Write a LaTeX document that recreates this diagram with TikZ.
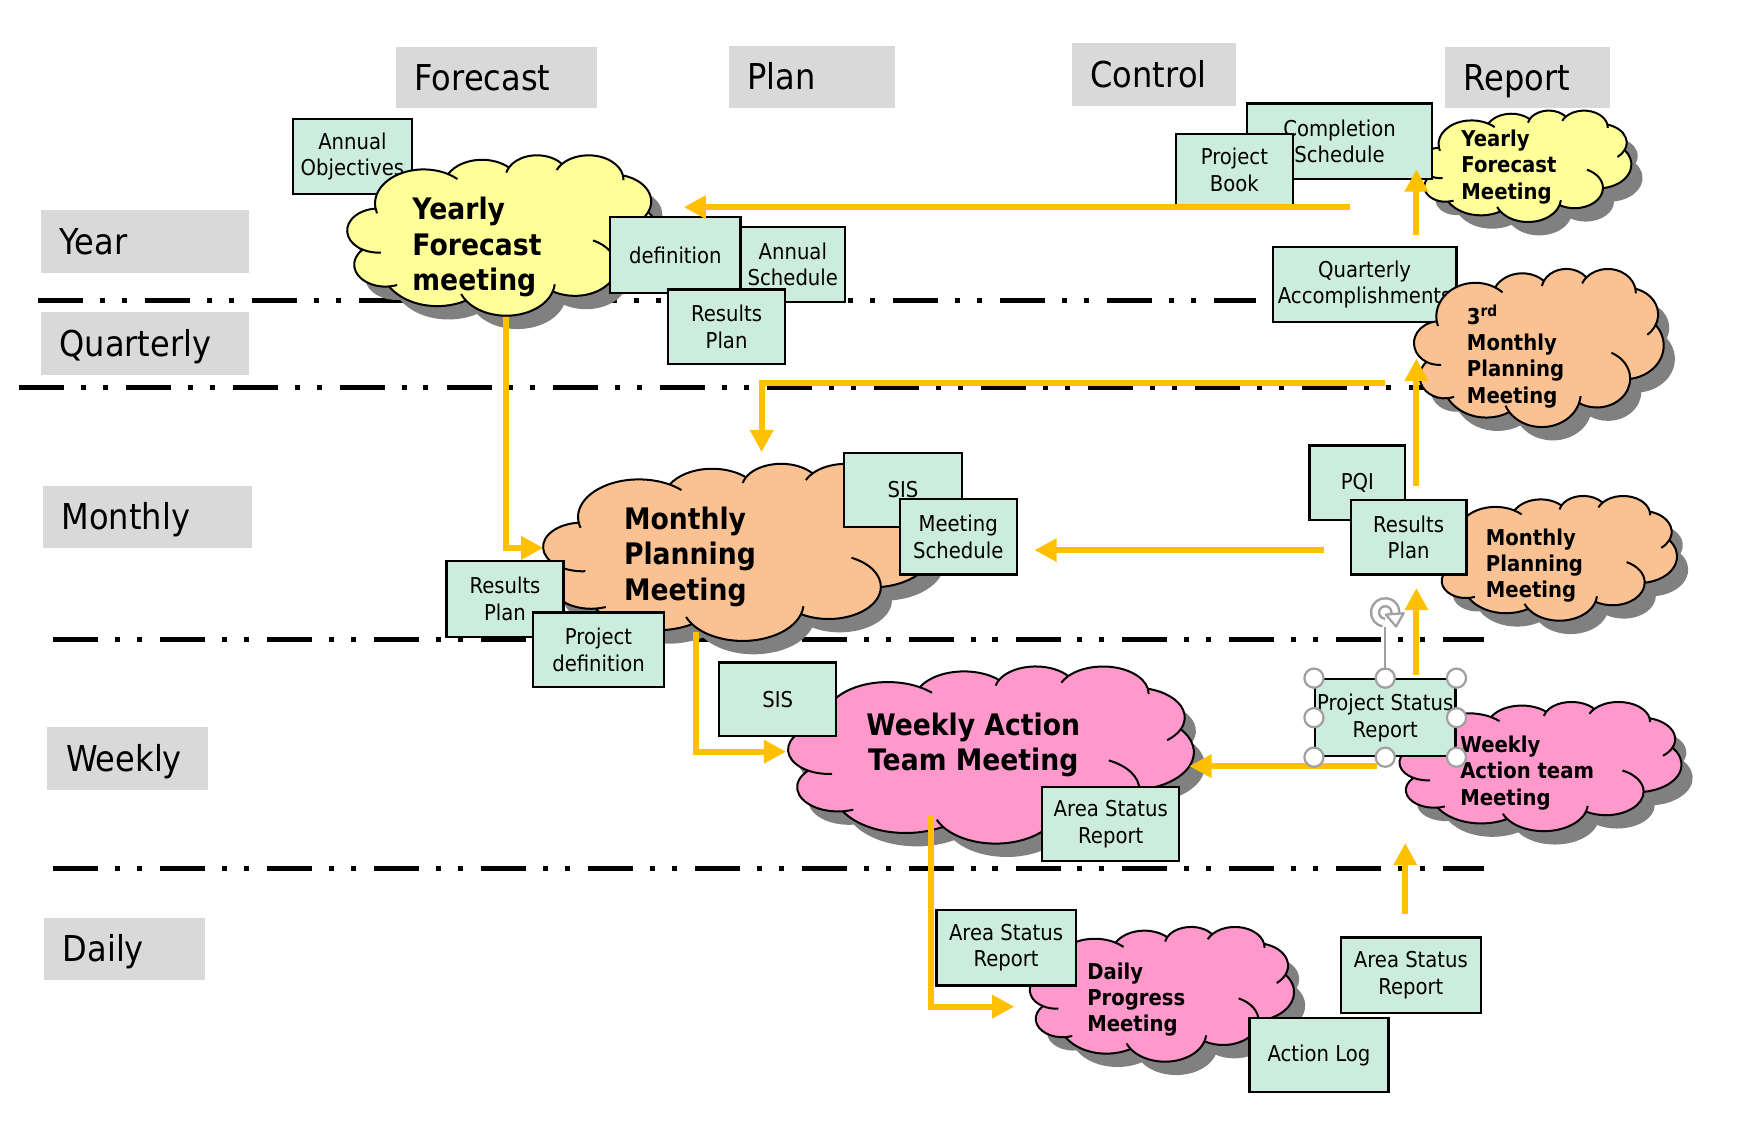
\documentclass[tikz,border=0pt]{standalone}
\usepackage{fontspec}
\setmainfont{DejaVu Sans}[FakeStretch=0.9]
\usetikzlibrary{arrows.meta}
\definecolor{cyel}{RGB}{255,255,153}
\definecolor{corg}{RGB}{250,194,146}
\definecolor{cpink}{RGB}{255,153,204}
\definecolor{cmint}{RGB}{204,236,222}
\definecolor{chdr}{RGB}{217,217,217}
\definecolor{cshd}{RGB}{128,128,128}
\definecolor{cgold}{RGB}{255,192,0}
\definecolor{chandle}{RGB}{160,160,160}
\def\cloudmain{(9.028,33.264)
 arc[start angle=-187.75,end angle=-59.64,x radius=15.632,y radius=21.273]
 arc[start angle=-152.02,end angle=-45.46,x radius=12.345,y radius=16.822]
 arc[start angle=-153.49,end angle=-37.32,x radius=10.104,y radius=13.762]
 arc[start angle=-139.72,end angle=-10.21,x radius=11.243,y radius=15.266]
 arc[start angle=-74.77,end angle=23.21,x radius=12.345,y radius=16.836]
 arc[start angle=-37.52,end angle=81.86,x radius=15.683,y radius=21.343]
 arc[start angle=0.46,end angle=121.98,x radius=13.391,y radius=18.211]
 arc[start angle=16.84,end angle=146.22,x radius=15.630,y radius=21.331]
 arc[start angle=58.98,end angle=150.19,x radius=17.870,y radius=24.405]
 arc[start angle=83.31,end angle=223.12,x radius=10.093,y radius=13.699]
 arc[start angle=120.36,end angle=264.11,x radius=10.058,y radius=13.762]
 -- cycle}
\def\cloudcreases{(10.761,60.985) arc[start angle=85.54,end angle=120.36,x radius=10.058,y radius=13.762]
 (16.006,81.224) arc[start angle=68.23,end angle=83.31,x radius=10.093,y radius=13.699]
 (38.152,90.890) arc[start angle=146.22,end angle=158.47,x radius=15.630,y radius=21.331]
 (66.721,80.789) arc[start angle=4.73,end angle=16.84,x radius=15.630,y radius=21.331]
 (79.058,53.392) arc[start angle=-64.03,end angle=0.46,x radius=13.391,y radius=18.211]
 (96.804,35.785) arc[start angle=23.21,end angle=49.63,x radius=12.345,y radius=16.836]
 (88.702,12.904) arc[start angle=-10.21,end angle=0.83,x radius=11.243,y radius=15.266]
 (67.342,9.476) arc[start angle=-156.30,end angle=-139.72,x radius=11.243,y radius=15.266]
 (51.150,11.156) arc[start angle=-167.72,end angle=-153.49,x radius=10.104,y radius=13.762]
 (32.416,12.038) arc[start angle=-59.64,end angle=-45.73,x radius=15.632,y radius=21.273]
 (9.536,36.472) arc[start angle=163.4,end angle=172.25,x radius=15.632,y radius=21.273]}
\newcommand\pptcloud[5]{%
 \begin{scope}[shift={(#1+10,#2+12)},xscale=#3/100,yscale=#4/100]
  \fill[cshd] \cloudmain;
 \end{scope}
 \begin{scope}[shift={(#1,#2)},xscale=#3/100,yscale=#4/100]
  \filldraw[fill=#5,draw=black,line width=0.9pt,line join=round] \cloudmain;
  \draw[line width=0.9pt] \cloudcreases;
 \end{scope}}
\tikzset{
 sepline/.style={line width=2.25pt, dash pattern=on 20.2pt off 7.6pt on 2.25pt off 7.6pt on 2.25pt off 8.1pt},
 hdr/.style={fill=chdr, anchor=west, inner xsep=8.5pt, inner ysep=0pt, align=left, text height=11.7pt, text depth=0pt, font=\fontsize{16}{19}\selectfont},
 doc/.style={fill=cmint, draw=black, line width=1pt, inner sep=0pt, align=center, font=\fontsize{9.8}{12}\selectfont},
 flow/.style={draw=cgold, line width=2.7pt, -{Triangle[length=10pt,width=10pt]}},
 bigtxt/.style={font=\fontsize{13.3}{16}\selectfont\bfseries, align=left, inner sep=0pt, anchor=west},
 smtxt/.style={font=\fontsize{9.8}{11.8}\selectfont\bfseries, align=left, inner sep=0pt, anchor=west},
 handle/.style={draw=chandle, fill=white, line width=1pt},
}
\begin{document}
\begin{tikzpicture}[x=0.5pt,y=-0.5pt]
\useasboundingbox (0,0) rectangle (1568,1008);
\fill[white] (0,0) rectangle (1568,1008);
% separators
\draw[sepline] (34,270) -- (1128,270);
\draw[sepline] (17,348) -- (1300,348);
\draw[sepline] (48,574) -- (1333,574);
\draw[sepline] (48,780) -- (1333,780);
% column headers
\node[hdr, minimum width=90.5pt, minimum height=27.5pt, text width=73.5pt] (hfc) at (355,69.5) {Forecast};
\node[hdr, minimum width=74.5pt, minimum height=28pt, text width=57.5pt] (hpl) at (654,69) {Plan};
\node[hdr, minimum width=74pt, minimum height=28pt, text width=57pt] (hct) at (962,67) {Control};
\node[hdr, minimum width=74pt, minimum height=27.5pt, text width=57pt] (hrp) at (1297,69.5) {Report};
% row labels
\node[hdr, minimum width=93.5pt, minimum height=28pt, text width=76.5pt] (ryr) at (36,217) {Year};
\node[hdr, minimum width=93.5pt, minimum height=28.5pt, text width=76.5pt] (rqt) at (36,308.5) {Quarterly};
\node[hdr, minimum width=94pt, minimum height=28pt, text width=77pt] (rmo) at (38,464) {Monthly};
\node[hdr, minimum width=72pt, minimum height=28pt, text width=55pt] (rwk) at (42,681) {Weekly};
\node[hdr, minimum width=72.5pt, minimum height=28pt, text width=55.5pt] (rdy) at (39,852) {Daily};
% boxes lying under clouds
\node[doc, minimum width=53.5pt, minimum height=33.5pt] (bao) at (316.5,140.5) {Annual\\Objectives};
\node[doc, minimum width=82.5pt, minimum height=33.5pt] (bqa) at (1225.5,255.5) {\makebox[0pt]{Quarterly}\\\makebox[0pt]{Accomplishments}};
% clouds
\pptcloud{312}{139}{279}{144}{cyel}
\pptcloud{1275}{99}{190}{100}{cyel}
\pptcloud{1270}{241}{224}{142}{corg}
\pptcloud{488}{416}{350}{159}{corg}
\pptcloud{1290}{445}{216}{112}{corg}
\pptcloud{708}{598}{364}{159}{cpink}
\pptcloud{1257}{630}{253}{116}{cpink}
\pptcloud{925}{832}{237}{121}{cpink}
% cloud texts
\node[bigtxt] (cyf) at (370,222) {Yearly\\Forecast\\meeting};
\node[smtxt] (cyr) at (1312,150) {Yearly\\Forecast\\Meeting};
\node[smtxt] (c3m) at (1317,320) {3\textsuperscript{rd}\\Monthly\\Planning\\Meeting};
\node[bigtxt] (cmp) at (560,500) {Monthly\\Planning\\Meeting};
\node[smtxt] (cmr) at (1334,508) {Monthly\\Planning\\Meeting};
\node[bigtxt, anchor=center, align=center] (cwa) at (874,669) {Weekly Action\\Team Meeting};
\node[smtxt] (cwr) at (1311,694) {Weekly\\Action team\\Meeting};
\node[smtxt] (cdp) at (976,897.5) {Daily\\Progress\\Meeting};
% document boxes
\node[doc, minimum width=47pt, minimum height=33.5pt] (bas) at (712,237.5) {Annual\\Schedule};
\node[doc, minimum width=58.5pt, minimum height=34pt] (bdf) at (606.5,229) {definition};
\node[doc, minimum width=52.5pt, minimum height=33.5pt] (brp1) at (652.5,293.5) {Results\\Plan};
\node[doc, minimum width=83pt, minimum height=34pt] (bcs) at (1203,127) {Completion\\Schedule};
\node[doc, minimum width=52.5pt, minimum height=32.5pt] (bpb) at (1108.5,152.5) {Project\\Book};
\node[doc, minimum width=53pt, minimum height=33pt] (bsis1) at (811,440) {SIS};
\node[doc, minimum width=52.5pt, minimum height=34pt] (bms) at (860.5,482) {Meeting\\Schedule};
\node[doc, minimum width=52.5pt, minimum height=34pt] (brp2) at (453.5,538) {Results\\Plan};
\node[doc, minimum width=58.5pt, minimum height=33.5pt] (bpd) at (537.5,583.5) {Project\\definition};
\node[doc, minimum width=52.5pt, minimum height=33pt] (bsis2) at (698.5,628) {SIS};
\node[doc, minimum width=61.5pt, minimum height=33pt] (basr1) at (997.5,740) {Area Status\\Report};
\node[doc, minimum width=43pt, minimum height=33.5pt] (bpqi) at (1219,433.5) {PQI};
\node[doc, minimum width=52pt, minimum height=33.5pt] (brp3) at (1265,482.5) {Results\\Plan};
\node[doc, minimum width=63pt, minimum height=34.5pt] (psr) at (1244,644.5) {\makebox[0pt]{Project Status}\\\makebox[0pt]{Report}};
\node[doc, minimum width=62.5pt, minimum height=34pt] (basr2) at (903.5,851) {Area Status\\Report};
\node[doc, minimum width=63pt, minimum height=34pt] (basr3) at (1267,876) {Area Status\\Report};
\node[doc, minimum width=62.5pt, minimum height=33.5pt] (bal) at (1184.5,947.5) {Action Log};
% arrows
\coordinate (a1s) at (1212,186); \coordinate (a1e) at (614,186);
\coordinate (a2s) at (1272,211); \coordinate (a2e) at (1272,152);
\coordinate (a3s) at (454,285);  \coordinate (a3e) at (488,492);
\coordinate (a4s) at (1244,344); \coordinate (a4e) at (684,406);
\coordinate (a5s) at (1272,436); \coordinate (a5e) at (1272,322);
\coordinate (a6s) at (1189,494); \coordinate (a6e) at (929,494);
\coordinate (a7s) at (1272,606); \coordinate (a7e) at (1272,528);
\coordinate (a8s) at (625,568);  \coordinate (a8e) at (706,675);
\coordinate (a9s) at (1237,688); \coordinate (a9e) at (1068,688);
\coordinate (a10s) at (836,733); \coordinate (a10e) at (911,904);
\coordinate (a11s) at (1262,821); \coordinate (a11e) at (1262,757);
\draw[flow] (a1s) -- (a1e);
\draw[flow] (a2s) -- (a2e);
\draw[flow] (a3s) |- (a3e);
\draw[flow] (a4s) -| (a4e);
\draw[flow] (a5s) -- (a5e);
\draw[flow] (a6s) -- (a6e);
\draw[flow] (a7s) -- (a7e);
\draw[flow] (a8s) |- (a8e);
\draw[flow] (a9s) -- (a9e);
\draw[flow] (a10s) |- (a10e);
\draw[flow] (a11s) -- (a11e);
% selection handles on Project Status Report
\coordinate (rc) at (1244,550);
\draw[chandle, line width=0.9pt] ([yshift=-6.6pt]rc) -- (psr.north);
\draw[chandle, line width=1.1pt, double=white, double distance=2.4pt] ([shift={(262:4.6pt)}]rc) arc[start angle=262, end angle=-28, radius=4.6pt];
\filldraw[chandle, fill=white, line width=1pt, line join=round] ([shift={(-28:4.6pt)}]rc) ++(4.2pt,1.8pt) -- ++(-8pt,-0.6pt) -- ++(4.6pt,-5.4pt) -- cycle;
\foreach \an in {north west,north,north east,west,east,south west,south,south east}
  \draw[handle] (psr.\an) circle[radius=4.3pt];
\end{tikzpicture}
\end{document}
